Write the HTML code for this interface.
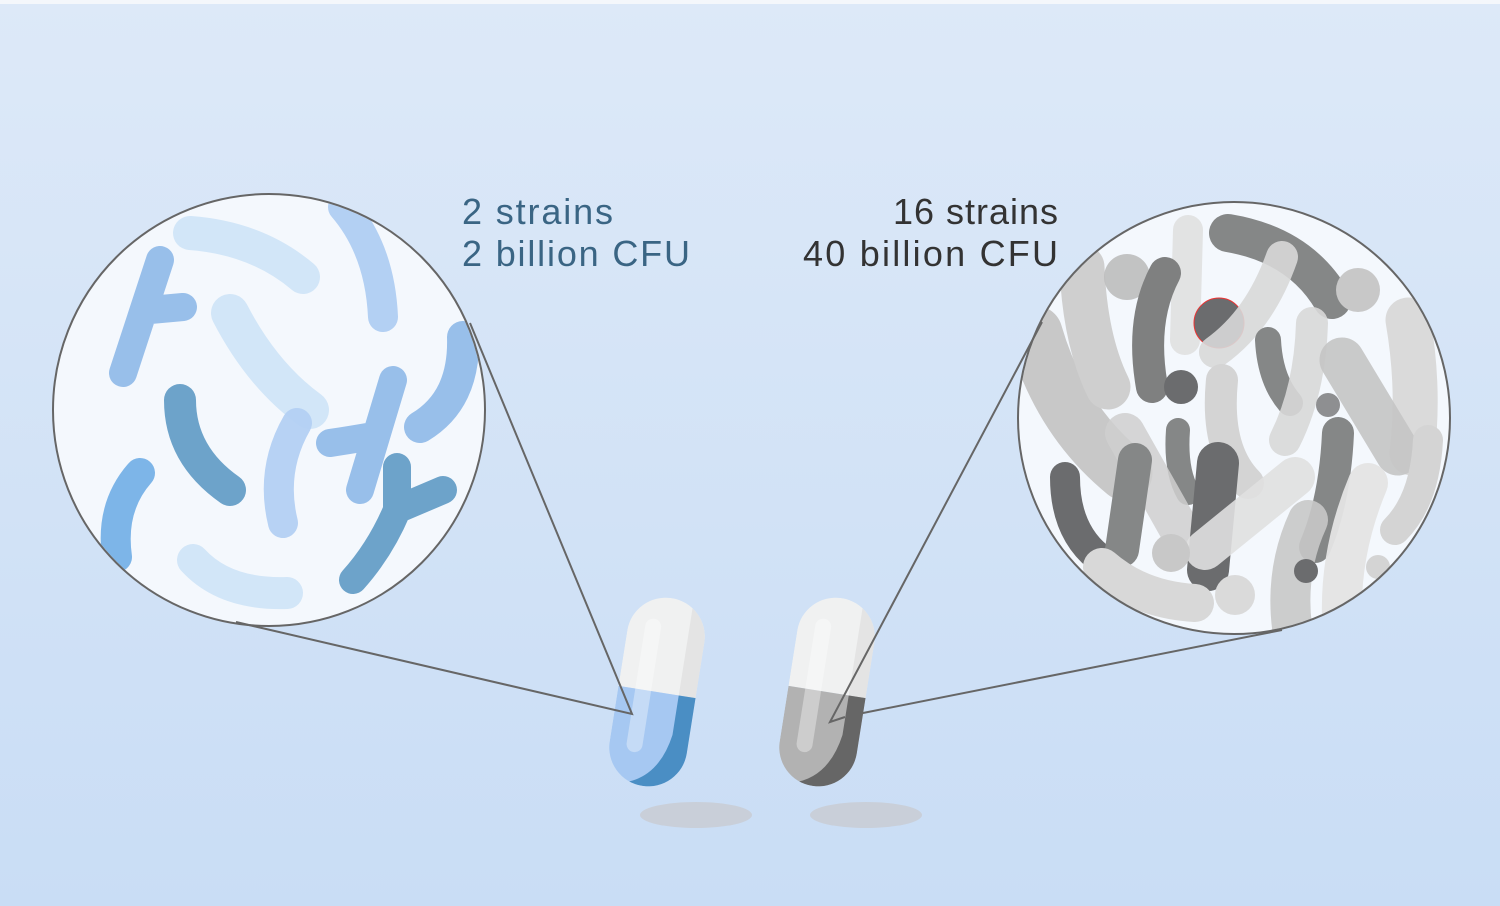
<!DOCTYPE html>
<html><head><meta charset="utf-8"><style>
html,body{margin:0;padding:0;width:1500px;height:906px;overflow:hidden}
svg{display:block}
text{font-family:"Liberation Sans",sans-serif;font-size:36px}
</style></head><body>
<svg width="1500" height="906" viewBox="0 0 1500 906" xmlns="http://www.w3.org/2000/svg">
<defs>
<linearGradient id="bg" x1="0" y1="0" x2="0" y2="1"><stop offset="0" stop-color="#dde9f8"/><stop offset="1" stop-color="#c9ddf5"/></linearGradient>
<clipPath id="cl"><circle cx="269" cy="410" r="215"/></clipPath>
<clipPath id="cr"><circle cx="1234" cy="418" r="215"/></clipPath>
</defs>
<rect width="1500" height="906" fill="url(#bg)"/>
<rect width="1500" height="4" fill="#f4f7fb"/>

<circle cx="269" cy="410" r="216" fill="#f4f8fd"/>
<g clip-path="url(#cl)" fill="none" stroke-linecap="round" stroke-linejoin="round">
<path d="M190,233 Q257,238 303,277" stroke="#d2e6f8" stroke-width="34"/>
<path d="M343,207 Q380,250 383,317" stroke="#b3d0f3" stroke-width="30"/>
<path d="M160,260 L123,373 M150,310 L183,307" stroke="#98bfea" stroke-width="28"/>
<path d="M230,313 Q262,375 310,410" stroke="#d2e6f8" stroke-width="38"/>
<path d="M180,400 Q180,455 230,490" stroke="#6da3ca" stroke-width="32"/>
<path d="M297,423 Q270,470 283,523" stroke="#b3d0f3" stroke-width="30" opacity="0.95"/>
<path d="M393,380 L360,490 M330,443 Q350,440 367,437" stroke="#98bfea" stroke-width="28"/>
<path d="M463,337 Q465,400 420,427" stroke="#98bfea" stroke-width="32"/>
<path d="M397,467 L397,510 Q380,550 353,580 M403,507 L443,490" stroke="#6da3ca" stroke-width="28"/>
<path d="M140,473 Q110,507 117,557" stroke="#7db5e8" stroke-width="30"/>
<path d="M193,560 Q225,595 287,593" stroke="#d2e6f8" stroke-width="32"/>
</g>
<circle cx="269" cy="410" r="216" fill="none" stroke="#666" stroke-width="2"/>

<circle cx="1234" cy="418" r="216" fill="#f4f8fd"/>
<g clip-path="url(#cr)" fill="none" stroke-linecap="round" stroke-linejoin="round">
<path d="M1035,333 Q1060,420 1125,473" stroke="#c8c8c8" stroke-width="55"/>
<path d="M1082,267 Q1085,340 1108,387" stroke="#cfcfcf" stroke-width="45"/>
<path d="M1408,320 Q1420,390 1412,453" stroke="#dadada" stroke-width="45"/>
<path d="M1228,233 Q1300,245 1332,300" stroke="#858787" stroke-width="38"/>
<path d="M1188,230 L1185,340" stroke="#e0e0e0" stroke-width="30" opacity="0.9"/>
<circle cx="1127" cy="277" r="23" fill="#bdbdbd" opacity="0.9"/>
<path d="M1165,273 Q1140,320 1152,387" stroke="#7f8080" stroke-width="32"/>
<circle cx="1181" cy="387" r="17" fill="#6b6c6e"/>
<circle cx="1219" cy="323" r="25" fill="#6b6c6e" stroke="#e33" stroke-width="1"/>
<path d="M1282,257 Q1260,320 1215,352" stroke="#d8d8d8" stroke-width="32" opacity="0.9"/>
<circle cx="1358" cy="290" r="22" fill="#c8c8c8"/>
<path d="M1268,340 Q1270,380 1290,403" stroke="#858787" stroke-width="26"/>
<path d="M1312,323 Q1310,390 1285,440" stroke="#d8d8d8" stroke-width="32" opacity="0.9"/>
<path d="M1342,360 L1398,453" stroke="#c4c4c4" stroke-width="45" opacity="0.9"/>
<circle cx="1328" cy="405" r="12" fill="#8e8f91"/>
<path d="M1222,380 Q1215,450 1248,483" stroke="#d4d4d4" stroke-width="32"/>
<path d="M1178,430 Q1175,470 1188,493" stroke="#858787" stroke-width="24"/>
<path d="M1125,433 L1178,527" stroke="#cfcfcf" stroke-width="40" opacity="0.85"/>
<path d="M1218,463 L1208,570" stroke="#6b6c6e" stroke-width="42"/>
<path d="M1338,433 Q1335,500 1315,547" stroke="#858787" stroke-width="32"/>
<path d="M1428,440 Q1425,500 1395,530" stroke="#d4d4d4" stroke-width="30"/>
<path d="M1368,483 Q1340,550 1342,617" stroke="#e4e4e4" stroke-width="40" opacity="0.95"/>
<path d="M1065,477 Q1065,530 1098,557" stroke="#6b6c6e" stroke-width="30"/>
<path d="M1135,460 L1122,550" stroke="#858787" stroke-width="34"/>
<path d="M1205,550 L1295,477" stroke="#e0e0e0" stroke-width="40" opacity="0.9"/>
<path d="M1102,567 Q1140,600 1195,603" stroke="#d8d8d8" stroke-width="38"/>
<circle cx="1171" cy="553" r="19" fill="#c8c8c8"/>
<circle cx="1235" cy="595" r="20" fill="#dadada"/>
<path d="M1308,520 Q1285,570 1292,627" stroke="#c8c8c8" stroke-width="40" opacity="0.9"/>
<circle cx="1306" cy="571" r="12" fill="#6b6c6e"/>
<circle cx="1378" cy="567" r="12" fill="#d4d4d4"/>
</g>
<circle cx="1234" cy="418" r="216" fill="none" stroke="#666" stroke-width="2"/>

<ellipse cx="696" cy="815" rx="56" ry="13" fill="#c9cfd9"/>
<ellipse cx="866" cy="815" rx="56" ry="13" fill="#c9cfd9"/>

<defs>
<clipPath id="cap"><rect x="-39" y="-95" width="78" height="190" rx="39"/></clipPath>
</defs>
<g transform="translate(657,692) rotate(9)">
<g clip-path="url(#cap)">
<rect x="-39" y="-95" width="78" height="95" fill="#f0f1f1"/>
<rect x="22" y="-95" width="20" height="95" fill="#e4e4e4"/>
<rect x="-39" y="0" width="78" height="95" fill="#a6c8f2"/>
<path d="M22,0 L40,0 L40,95 L-20,95 Q15,85 22,40 Z" fill="#4a8ec4"/>
</g>
<rect x="-22" y="-72" width="16" height="135" rx="8" fill="#fff" opacity="0.35"/>
</g>
<g transform="translate(827,692) rotate(9)">
<g clip-path="url(#cap)">
<rect x="-39" y="-95" width="78" height="95" fill="#f0f1f1"/>
<rect x="22" y="-95" width="20" height="95" fill="#e4e4e4"/>
<rect x="-39" y="0" width="78" height="95" fill="#b2b2b2"/>
<path d="M22,0 L40,0 L40,95 L-20,95 Q15,85 22,40 Z" fill="#666"/>
</g>
<rect x="-22" y="-72" width="16" height="135" rx="8" fill="#fff" opacity="0.35"/>
</g>

<g stroke="#666" stroke-width="2" fill="none">
<path d="M236,622 L632,714 L470,323"/>
<path d="M1042,322 L830,722 L845,717"/>
<path d="M1282,630 L858,714"/>
</g>

<text x="462" y="224" fill="#3a6584" textLength="151" lengthAdjust="spacing">2 strains</text>
<text x="462" y="266" fill="#3a6584" textLength="228" lengthAdjust="spacing">2 billion CFU</text>
<text x="893" y="224" fill="#333" textLength="165" lengthAdjust="spacing">16 strains</text>
<text x="803" y="266" fill="#333" textLength="255" lengthAdjust="spacing">40 billion CFU</text>
</svg>
</body></html>
